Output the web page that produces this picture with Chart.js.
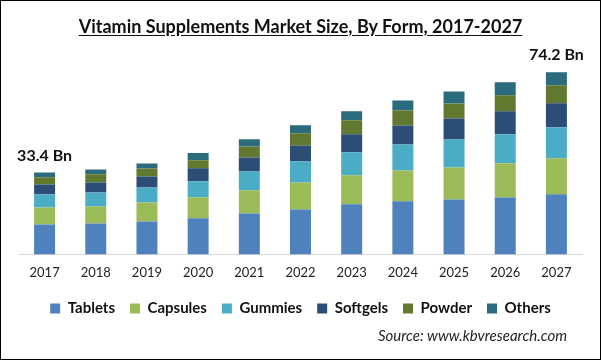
<!DOCTYPE html>
<html>
<head>
<meta charset="utf-8">
<script src="https://cdn.jsdelivr.net/npm/chart.js@4.4.1/dist/chart.umd.min.js"></script>
<style>
  html, body { margin: 0; padding: 0; background: #fff; }
  #wrap { position: relative; width: 601px; height: 360px; overflow: hidden; }
  #c { position: absolute; left: 0; top: 0; }
  #frame { position: absolute; left: 0; top: 0; width: 601px; height: 360px; box-sizing: border-box; border: 1px solid #000; pointer-events: none; }
  #title { position: absolute; left: 0; width: 601px; top: 15px; text-align: center; font-family: Lato, "Open Sans", sans-serif; font-weight: bold; font-size: 18px; color: #111; }
  #title span { text-decoration: underline; text-underline-offset: 2px; }
  #source { position: absolute; right: 34px; top: 326px; font-family: Lato, "Open Sans", sans-serif; font-style: italic; font-size: 15px; color: #222; }
</style>
</head>
<body>
<div id="wrap">
  <canvas id="c" width="601" height="360"></canvas>
  <div id="title"><span>Vitamin Supplements Market Size, By Form, 2017-2027</span></div>
  <div id="source">Source: www.kbvresearch.com</div>
  <div id="frame"></div>
</div>
<script>
const years = ["2017","2018","2019","2020","2021","2022","2023","2024","2025","2026","2027"];
const tablets  = [12.2, 12.6, 13.4, 14.7, 16.7, 18.3, 20.4, 21.6, 22.4, 23.2, 24.5];
const capsules = [6.9, 6.9, 7.7, 8.6, 9.4, 11.0, 11.8, 12.6, 13.0, 13.9, 14.7];
const gummies  = [5.4, 5.7, 6.1, 6.5, 7.7, 8.6, 9.4, 10.6, 11.4, 11.8, 12.6];
const softgels = [4.0, 4.1, 4.5, 5.3, 5.7, 6.5, 7.3, 7.7, 8.6, 9.4, 9.8];
const powder   = [2.9, 3.3, 3.3, 3.3, 4.5, 4.9, 5.7, 6.1, 6.1, 6.5, 7.3];
const others   = [2.0, 2.0, 2.0, 2.9, 2.9, 3.3, 3.7, 4.1, 4.9, 5.3, 5.3];
const seriesNames = ["Tablets","Capsules","Gummies","Softgels","Powder","Others"];
const seriesColors = ["#4F81BD","#9BBB59","#4BACC6","#2C4D75","#60792F","#2A6B7D"];
const calloutIndex = [0, 10];
const calloutText = ["33.4 Bn", "74.2 Bn"];

const allSeries = [tablets, capsules, gummies, softgels, powder, others];

const calloutPlugin = {
  id: 'callouts',
  afterDatasetsDraw(chart) {
    const ctx = chart.ctx;
    const topMeta = chart.getDatasetMeta(chart.data.datasets.length - 1);
    ctx.save();
    ctx.font = 'bold 16px Lato, "Open Sans", sans-serif';
    ctx.fillStyle = '#111';
    ctx.textAlign = 'center';
    ctx.textBaseline = 'middle';
    calloutIndex.forEach((idx, k) => {
      const bar = topMeta.data[idx];
      ctx.fillText(calloutText[k], bar.x, bar.y - 17);
    });
    ctx.restore();
  }
};

new Chart(document.getElementById('c'), {
  type: 'bar',
  data: {
    labels: years,
    datasets: allSeries.map((d, i) => ({
      label: seriesNames[i],
      data: d,
      backgroundColor: seriesColors[i],
      borderWidth: 0,
      barPercentage: 0.41,
      categoryPercentage: 1.0
    }))
  },
  options: {
    responsive: false,
    animation: false,
    devicePixelRatio: 1,
    layout: { padding: { top: 58, left: 19, right: 19, bottom: 34 } },
    scales: {
      x: {
        stacked: true,
        grid: { display: false, drawTicks: false },
        border: { display: true, color: '#d9d9d9', width: 1 },
        ticks: { color: '#222', font: { family: 'Lato, "Open Sans", sans-serif', size: 13 }, padding: 11 },
        afterFit(scale) { scale.height -= 6; }
      },
      y: {
        stacked: true,
        display: false,
        min: 0,
        max: 80
      }
    },
    plugins: {
      legend: {
        position: 'bottom',
        labels: {
          boxWidth: 10,
          boxHeight: 10,
          padding: 15,
          color: '#111',
          font: { family: 'Lato, "Open Sans", sans-serif', size: 15, weight: 'bold' }
        }
      },
      tooltip: { enabled: false }
    }
  },
  plugins: [calloutPlugin]
});
</script>
</body>
</html>
